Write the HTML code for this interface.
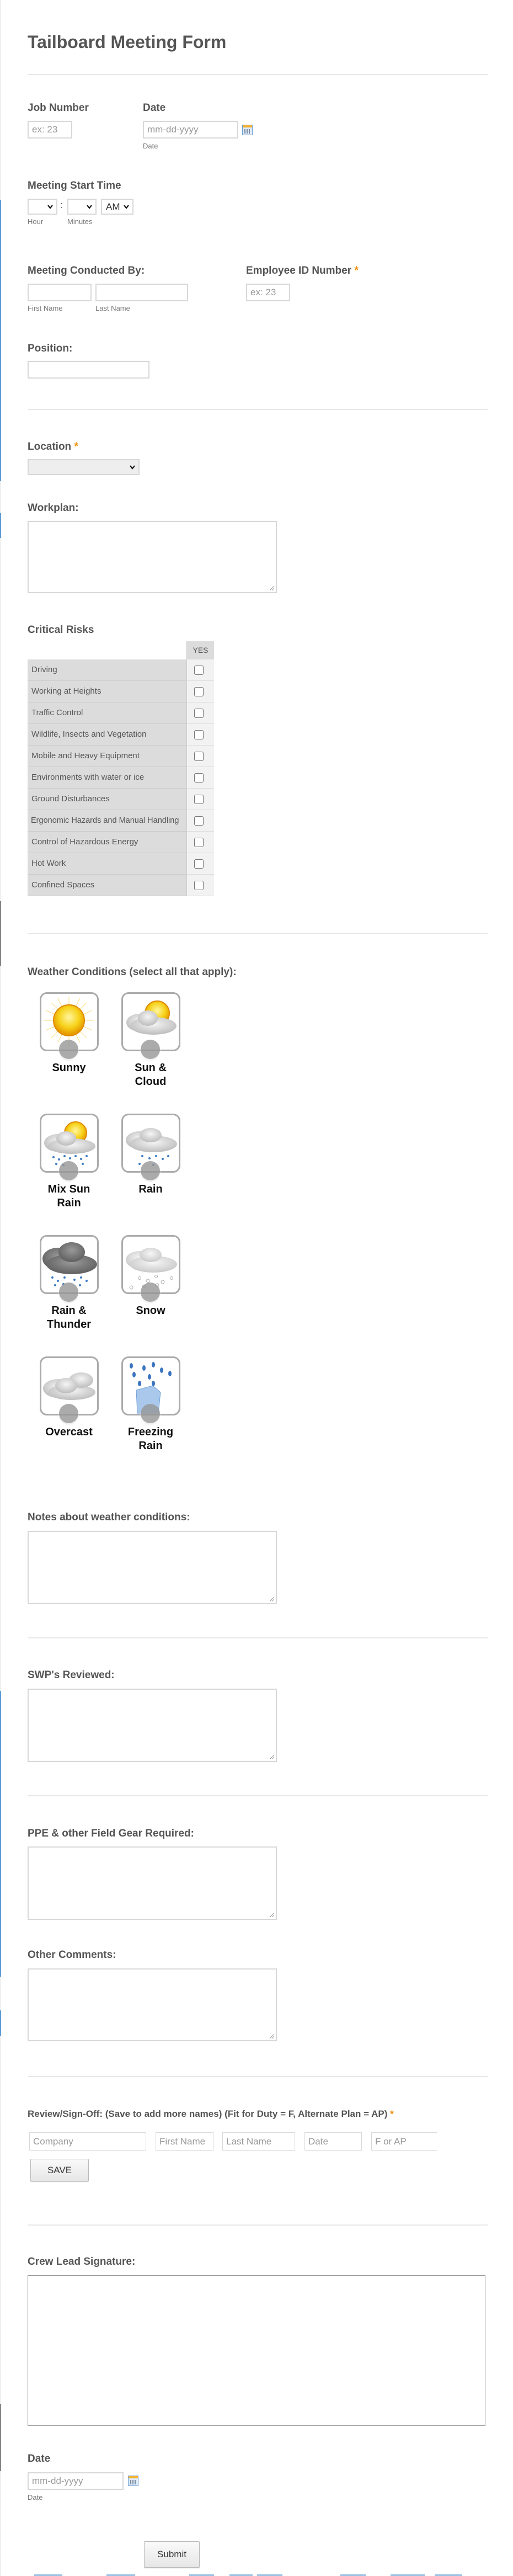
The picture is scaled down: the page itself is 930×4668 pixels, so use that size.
<!DOCTYPE html>
<html><head><meta charset="utf-8">
<style>
*{box-sizing:border-box;margin:0;padding:0}
body{width:930px;height:4668px;position:relative;background:#fff;font-family:"Liberation Sans",Arial,sans-serif;overflow:hidden}
.a{position:absolute}
.lbl{position:absolute;left:50px;font-size:19px;font-weight:bold;color:#555;line-height:22px;white-space:nowrap}
.hr{position:absolute;left:50px;width:834px;height:2px;background:#e8e8e8}
.inp{position:absolute;border:2px solid #d8d8d8;background:#fff;font-size:17px;color:#999;padding-left:6px;display:flex;align-items:center;white-space:nowrap;overflow:hidden}
.sub{position:absolute;font-size:13px;color:#777;line-height:16px}
.ta{position:absolute;left:50px;width:452px;border:2px solid #d8d8d8;background:#fff}
.ta:after{content:"";position:absolute;right:3px;bottom:3px;width:8px;height:8px;background:linear-gradient(135deg,transparent 45%,#999 45%,#999 55%,transparent 55%,transparent 70%,#999 70%,#999 80%,transparent 80%)}
.sel{position:absolute;border:2px solid #d8d8d8;background:#fff;font-size:17px;color:#333}
.sel svg{position:absolute;right:6px;top:50%;margin-top:-4px}
.star{color:#f28a00}
.row{position:absolute;left:50px;width:338px;height:39px}
.row .t{position:absolute;left:0;top:0;width:288px;height:39px;background:#dcdcdc;border-bottom:1px solid #ccc;font-size:15px;color:#555;line-height:38px;padding-left:7px;white-space:nowrap}
.row .c{position:absolute;left:288px;top:0;width:50px;height:39px;background:#f2f2f2;border-left:1px solid #ccc;border-bottom:1px solid #ddd}
.row .c i{position:absolute;left:13px;top:11px;width:17px;height:17px;border:1.5px solid #777;border-radius:3px;background:#fff}
.tile{position:absolute;width:107px;height:107px;border:3px solid #ababab;border-radius:13px;background:#fff;overflow:hidden}
.dot{position:absolute;width:35px;height:35px;border-radius:50%;background:rgba(150,150,150,.8);box-shadow:0 3px 2px #f0f0f0}
.wl{position:absolute;width:148px;text-align:center;font-size:20px;font-weight:bold;color:#111;line-height:25px}
.cal{position:absolute;width:19px;height:19px;border:1px solid #6a9fd4;background:linear-gradient(#f2b233 0 4px,#dfeaf6 4px);}
.cal:after{content:"";position:absolute;left:3px;top:7px;width:11px;height:8px;background:repeating-linear-gradient(90deg,#7a8da3 0 2px,transparent 2px 4px)}
.btn{position:absolute;border:1px solid #bbb;background:linear-gradient(#fafafa,#e6e6e6);border-radius:2px;box-shadow:0 1px 1px #ccc;font-size:17px;color:#333;display:flex;align-items:center;justify-content:center}
</style></head><body>

<!-- page borders -->
<div class="a" style="left:0;top:0;width:1px;height:4668px;background:#e6e6e6"></div>
<div class="a" style="left:0;top:362px;width:2px;height:510px;background:#5b9bd5"></div>
<div class="a" style="left:0;top:930px;width:2px;height:45px;background:#5b9bd5"></div>
<div class="a" style="left:0;top:1633px;width:1px;height:117px;background:#333"></div>
<div class="a" style="left:0;top:3064px;width:2px;height:518px;background:#5b9bd5"></div>
<div class="a" style="left:0;top:3643px;width:2px;height:46px;background:#5b9bd5"></div>
<div class="a" style="left:0;top:4356px;width:1px;height:122px;background:#333"></div>

<div class="a" style="left:50px;top:56px;font-size:32px;font-weight:bold;color:#555;line-height:40px">Tailboard Meeting Form</div>
<div class="hr" style="top:134px"></div>

<div class="lbl" style="top:185px">Job Number</div>
<div class="lbl" style="top:185px;left:259px">Date</div>
<div class="inp" style="left:50px;top:219px;width:81px;height:32px">ex: 23</div>
<div class="inp" style="left:259px;top:219px;width:173px;height:32px">mm-dd-yyyy</div>
<div class="cal" style="left:439px;top:226px"></div>
<div class="sub" style="left:259px;top:257px">Date</div>

<div class="lbl" style="top:326px">Meeting Start Time</div>
<div class="sel" style="left:50px;top:360px;width:54px;height:29px"><svg width="10" height="8"><path d="M1 1l4 5 4-5" stroke="#111" stroke-width="2.2" fill="none"/></svg></div>
<div class="a" style="left:109px;top:362px;font-size:17px;color:#555">:</div>
<div class="sel" style="left:122px;top:360px;width:53px;height:29px"><svg width="10" height="8"><path d="M1 1l4 5 4-5" stroke="#111" stroke-width="2.2" fill="none"/></svg></div>
<div class="sel" style="left:183px;top:360px;width:59px;height:29px;padding:3px 0 0 7px">AM<svg width="10" height="8"><path d="M1 1l4 5 4-5" stroke="#111" stroke-width="2.2" fill="none"/></svg></div>
<div class="sub" style="left:50px;top:394px">Hour</div>
<div class="sub" style="left:122px;top:394px">Minutes</div>

<div class="lbl" style="top:480px">Meeting Conducted By:</div>
<div class="lbl" style="top:480px;left:446px">Employee ID Number <span class="star">*</span></div>
<div class="inp" style="left:50px;top:514px;width:116px;height:32px"></div>
<div class="inp" style="left:173px;top:514px;width:168px;height:32px"></div>
<div class="inp" style="left:446px;top:514px;width:80px;height:32px">ex: 23</div>
<div class="sub" style="left:50px;top:551px">First Name</div>
<div class="sub" style="left:173px;top:551px">Last Name</div>

<div class="lbl" style="top:621px">Position:</div>
<div class="inp" style="left:50px;top:654px;width:221px;height:32px"></div>

<div class="hr" style="top:741px"></div>

<div class="lbl" style="top:799px">Location <span class="star">*</span></div>
<div class="sel" style="left:50px;top:832px;width:203px;height:29px;background:#eee"><svg width="10" height="8"><path d="M1 1l4 5 4-5" stroke="#111" stroke-width="2.2" fill="none"/></svg></div>

<div class="lbl" style="top:910px">Workplan:</div>
<div class="ta" style="top:944px;height:131px"></div>

<div class="lbl" style="top:1131px">Critical Risks</div>
<div class="a" style="left:338px;top:1162px;width:50px;height:33px;background:#dcdcdc;border-left:1px solid #ccc;font-size:14px;color:#555;text-align:center;line-height:33px">YES</div>
<div class="row" style="top:1195px"><div class="t">Driving</div><div class="c"><i></i></div></div>
<div class="row" style="top:1234px"><div class="t">Working at Heights</div><div class="c"><i></i></div></div>
<div class="row" style="top:1273px"><div class="t">Traffic Control</div><div class="c"><i></i></div></div>
<div class="row" style="top:1312px"><div class="t">Wildlife, Insects and Vegetation</div><div class="c"><i></i></div></div>
<div class="row" style="top:1351px"><div class="t">Mobile and Heavy Equipment</div><div class="c"><i></i></div></div>
<div class="row" style="top:1390px"><div class="t">Environments with water or ice</div><div class="c"><i></i></div></div>
<div class="row" style="top:1429px"><div class="t">Ground Disturbances</div><div class="c"><i></i></div></div>
<div class="row" style="top:1468px"><div class="t" style="font-size:14.5px;padding-left:6px">Ergonomic Hazards and Manual Handling</div><div class="c"><i></i></div></div>
<div class="row" style="top:1507px"><div class="t">Control of Hazardous Energy</div><div class="c"><i></i></div></div>
<div class="row" style="top:1546px"><div class="t">Hot Work</div><div class="c"><i></i></div></div>
<div class="row" style="top:1585px"><div class="t">Confined Spaces</div><div class="c"><i></i></div></div>

<div class="hr" style="top:1691px"></div>

<div class="lbl" style="top:1751px">Weather Conditions (select all that apply):</div>

<svg width="0" height="0" style="position:absolute">
<defs>
<radialGradient id="sun" cx="50%" cy="40%" r="55%"><stop offset="0" stop-color="#fff6a0"/><stop offset=".6" stop-color="#f7d21a"/><stop offset="1" stop-color="#e69a00"/></radialGradient>
<radialGradient id="cl" cx="50%" cy="40%" r="60%"><stop offset="0" stop-color="#f5f5f5"/><stop offset="1" stop-color="#bdbdbd"/></radialGradient>
<radialGradient id="dk" cx="50%" cy="40%" r="60%"><stop offset="0" stop-color="#999"/><stop offset="1" stop-color="#5f5f5f"/></radialGradient>
</defs></svg>

<!-- Row 1 -->
<div class="tile" style="left:72px;top:1798px"><svg width="101" height="101"><g stroke="#f8d35a" stroke-width="1" opacity=".8"><path d="M50 5V95M5 48H95M18 16L82 80M82 16L18 80M30 8L70 88M70 8L30 88M8 30L92 66M92 30L8 66"/></g><circle cx="50" cy="48" r="28" fill="url(#sun)" stroke="#e08a00" stroke-width="2"/></svg></div>
<div class="dot" style="left:107px;top:1884px"></div>
<div class="wl" style="left:51px;top:1923px">Sunny</div>

<div class="tile" style="left:220px;top:1798px"><svg width="101" height="101"><circle cx="62" cy="35" r="22" fill="url(#sun)" stroke="#e08a00" stroke-width="2"/><g fill="url(#cl)"><ellipse cx="30" cy="52" rx="24" ry="16"/><ellipse cx="55" cy="58" rx="42" ry="16"/><ellipse cx="45" cy="44" rx="18" ry="14"/></g></svg></div>
<div class="dot" style="left:255px;top:1884px"></div>
<div class="wl" style="left:199px;top:1923px">Sun &amp;<br>Cloud</div>

<!-- Row 2 -->
<div class="tile" style="left:72px;top:2018px"><svg width="101" height="101"><circle cx="62" cy="32" r="20" fill="url(#sun)" stroke="#e08a00" stroke-width="2"/><g fill="url(#cl)"><ellipse cx="30" cy="50" rx="25" ry="16"/><ellipse cx="55" cy="56" rx="43" ry="14"/><ellipse cx="45" cy="42" rx="18" ry="13"/></g><g fill="#3a7cc4"><circle cx="22" cy="76" r="2"/><circle cx="32" cy="80" r="2"/><circle cx="42" cy="74" r="2"/><circle cx="52" cy="78" r="2"/><circle cx="62" cy="74" r="2"/><circle cx="72" cy="79" r="2"/><circle cx="82" cy="74" r="2"/><circle cx="27" cy="88" r="2"/><circle cx="40" cy="90" r="2"/><circle cx="75" cy="88" r="2"/></g></svg></div>
<div class="dot" style="left:107px;top:2104px"></div>
<div class="wl" style="left:51px;top:2143px">Mix Sun<br>Rain</div>

<div class="tile" style="left:220px;top:2018px"><svg width="101" height="101"><g fill="url(#cl)"><ellipse cx="30" cy="45" rx="25" ry="16"/><ellipse cx="55" cy="52" rx="43" ry="15"/><ellipse cx="50" cy="36" rx="20" ry="13"/></g><g fill="#3a7cc4"><circle cx="35" cy="74" r="2"/><circle cx="48" cy="78" r="2"/><circle cx="60" cy="74" r="2"/><circle cx="72" cy="79" r="2"/><circle cx="82" cy="74" r="2"/><circle cx="30" cy="88" r="2"/><circle cx="55" cy="90" r="2"/></g></svg></div>
<div class="dot" style="left:255px;top:2104px"></div>
<div class="wl" style="left:199px;top:2143px">Rain</div>

<!-- Row 3 -->
<div class="tile" style="left:72px;top:2238px"><svg width="101" height="101"><g fill="url(#dk)"><ellipse cx="30" cy="40" rx="28" ry="20"/><ellipse cx="55" cy="50" rx="46" ry="18"/><ellipse cx="55" cy="28" rx="24" ry="18"/></g><g fill="#3a7cc4"><circle cx="20" cy="74" r="2"/><circle cx="30" cy="80" r="2"/><circle cx="42" cy="74" r="2"/><circle cx="60" cy="78" r="2"/><circle cx="72" cy="74" r="2"/><circle cx="82" cy="80" r="2"/><circle cx="25" cy="88" r="2"/><circle cx="40" cy="86" r="2"/><circle cx="70" cy="88" r="2"/></g></svg></div>
<div class="dot" style="left:107px;top:2324px"></div>
<div class="wl" style="left:51px;top:2363px">Rain &amp;<br>Thunder</div>

<div class="tile" style="left:220px;top:2238px"><svg width="101" height="101"><g fill="url(#cl)" opacity=".8"><ellipse cx="30" cy="42" rx="25" ry="16"/><ellipse cx="55" cy="50" rx="43" ry="15"/><ellipse cx="50" cy="33" rx="20" ry="13"/></g><g fill="none" stroke="#aaa"><circle cx="30" cy="75" r="2.5"/><circle cx="45" cy="80" r="3"/><circle cx="60" cy="72" r="2.5"/><circle cx="72" cy="82" r="3"/><circle cx="88" cy="75" r="2.5"/><circle cx="15" cy="92" r="3"/><circle cx="38" cy="90" r="2.5"/><circle cx="62" cy="88" r="3"/></g></svg></div>
<div class="dot" style="left:255px;top:2324px"></div>
<div class="wl" style="left:199px;top:2363px">Snow</div>

<!-- Row 4 -->
<div class="tile" style="left:72px;top:2458px"><svg width="101" height="101"><g fill="url(#cl)"><ellipse cx="30" cy="55" rx="27" ry="17"/><ellipse cx="55" cy="62" rx="43" ry="14"/><ellipse cx="72" cy="40" rx="22" ry="14"/><ellipse cx="45" cy="50" rx="20" ry="14"/></g></svg></div>
<div class="dot" style="left:107px;top:2544px"></div>
<div class="wl" style="left:51px;top:2583px">Overcast</div>

<div class="tile" style="left:220px;top:2458px"><svg width="101" height="101"><g fill="#3a74c0"><ellipse cx="15" cy="14" rx="3" ry="5"/><ellipse cx="38" cy="18" rx="3" ry="5"/><ellipse cx="55" cy="12" rx="3" ry="5"/><ellipse cx="70" cy="22" rx="3" ry="5"/><ellipse cx="85" cy="28" rx="3" ry="5"/><ellipse cx="20" cy="30" rx="3" ry="5"/><ellipse cx="48" cy="34" rx="3" ry="5"/><ellipse cx="30" cy="46" rx="3" ry="5"/><ellipse cx="55" cy="46" rx="3" ry="5"/></g><path d="M24 58l30-8 14 12-4 38H26z" fill="#a9c8ec" stroke="#6f9fd6"/></svg></div>
<div class="dot" style="left:255px;top:2544px"></div>
<div class="wl" style="left:199px;top:2583px">Freezing<br>Rain</div>

<div class="lbl" style="top:2739px">Notes about weather conditions:</div>
<div class="ta" style="top:2774px;height:133px"></div>
<div class="hr" style="top:2967px"></div>

<div class="lbl" style="top:3025px">SWP's Reviewed:</div>
<div class="ta" style="top:3060px;height:133px"></div>
<div class="hr" style="top:3253px"></div>

<div class="lbl" style="top:3312px">PPE &amp; other Field Gear Required:</div>
<div class="ta" style="top:3346px;height:133px"></div>

<div class="lbl" style="top:3532px">Other Comments:</div>
<div class="ta" style="top:3567px;height:132px"></div>
<div class="hr" style="top:3762px"></div>

<div class="lbl" style="top:3820px;font-size:17px">Review/Sign-Off: (Save to add more names) (Fit for Duty = F, Alternate Plan = AP) <span class="star">*</span></div>
<div class="inp" style="left:53px;top:3864px;width:212px;height:33px;border-width:1px">Company</div>
<div class="inp" style="left:282px;top:3864px;width:105px;height:33px;border-width:1px">First Name</div>
<div class="inp" style="left:403px;top:3864px;width:132px;height:33px;border-width:1px">Last Name</div>
<div class="inp" style="left:552px;top:3864px;width:104px;height:33px;border-width:1px">Date</div>
<div class="inp" style="left:673px;top:3864px;width:119px;height:33px;border-width:1px;border-right:none">F or AP</div>
<div class="btn" style="left:55px;top:3912px;width:106px;height:41px">SAVE</div>

<div class="hr" style="top:4031px"></div>

<div class="lbl" style="top:4088px">Crew Lead Signature:</div>
<div class="a" style="left:50px;top:4123px;width:830px;height:273px;border:1px solid #999;background:#fff"></div>

<div class="lbl" style="top:4445px">Date</div>
<div class="inp" style="left:50px;top:4480px;width:174px;height:32px">mm-dd-yyyy</div>
<div class="cal" style="left:232px;top:4486px"></div>
<div class="sub" style="left:50px;top:4518px">Date</div>

<div class="btn" style="left:261px;top:4605px;width:101px;height:48px">Submit</div>

<!-- bottom bars -->
<div class="a" style="left:62px;top:4665px;width:51px;height:3px;background:#9cc3e6"></div>
<div class="a" style="left:193px;top:4665px;width:52px;height:3px;background:#9cc3e6"></div>
<div class="a" style="left:343px;top:4665px;width:45px;height:3px;background:#9cc3e6"></div>
<div class="a" style="left:416px;top:4665px;width:42px;height:3px;background:#9cc3e6"></div>
<div class="a" style="left:466px;top:4665px;width:46px;height:3px;background:#9cc3e6"></div>
<div class="a" style="left:617px;top:4665px;width:46px;height:3px;background:#9cc3e6"></div>
<div class="a" style="left:708px;top:4665px;width:62px;height:3px;background:#9cc3e6"></div>
<div class="a" style="left:788px;top:4665px;width:50px;height:3px;background:#9cc3e6"></div>
</body></html>
